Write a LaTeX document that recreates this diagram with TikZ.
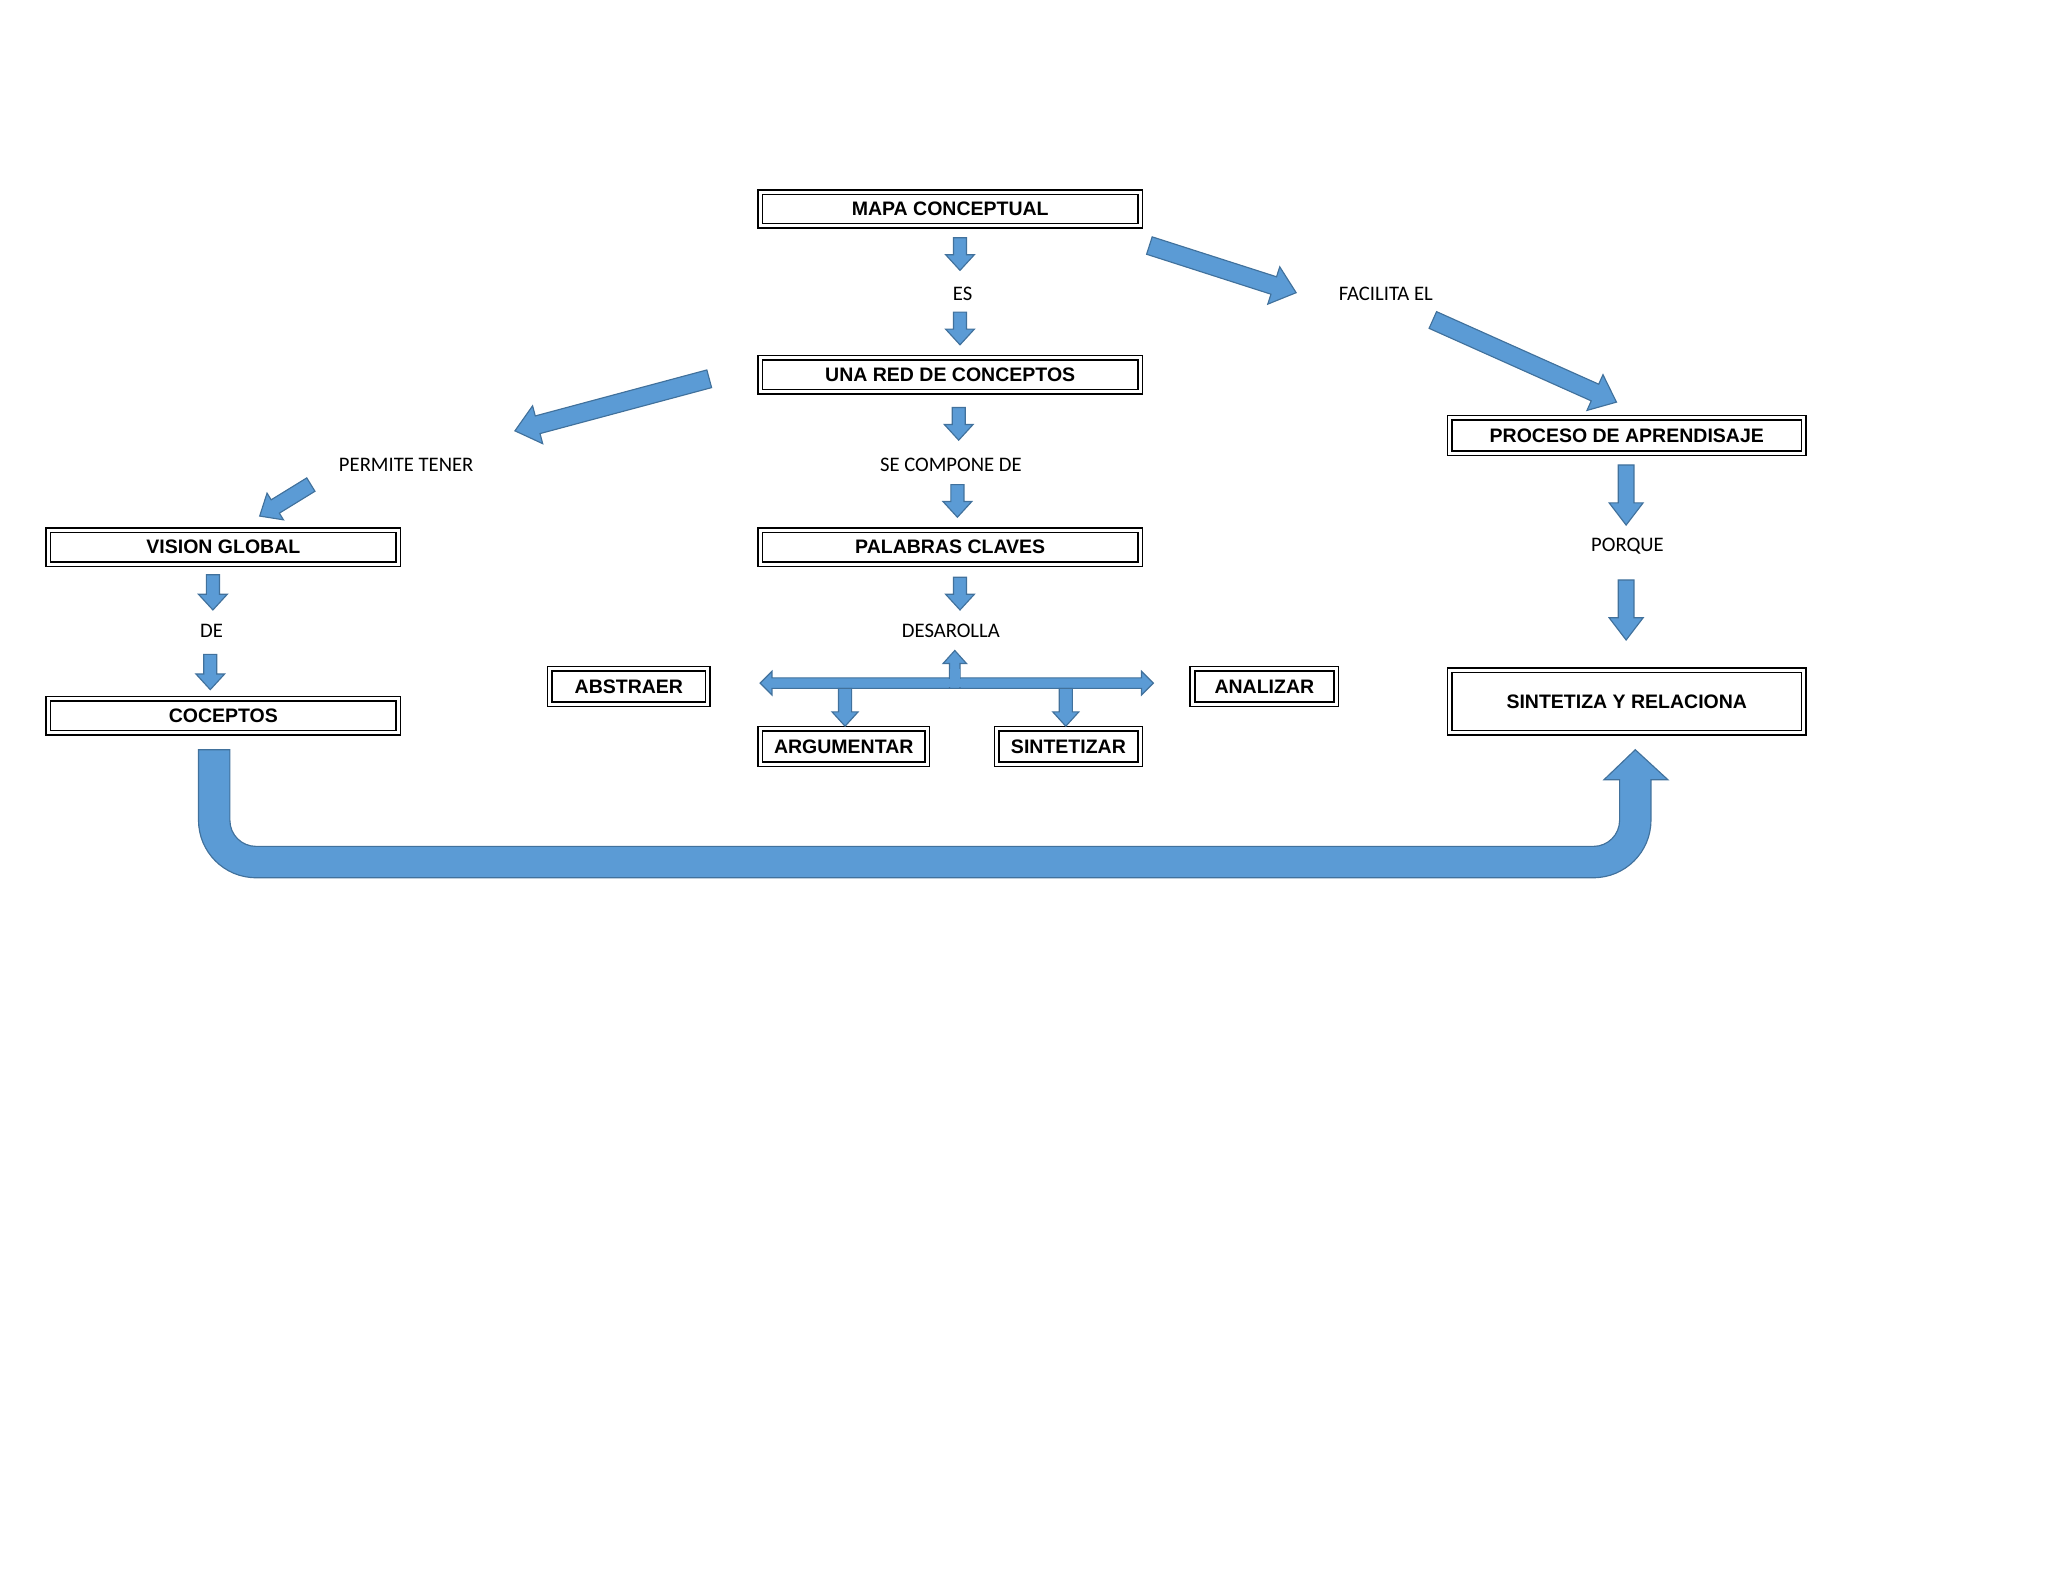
\documentclass[tikz,border=0pt]{standalone}
\usepackage{fontspec}
\setmainfont{Liberation Sans}
\newfontfamily\lblfont{Carlito}
\usetikzlibrary{calc,positioning}
\definecolor{arrfill}{HTML}{5B9BD5}
\definecolor{arrline}{HTML}{41719C}
% block arrow: position, angle, length, half shaft, half head, head length
\newcommand{\barrow}[6]{%
  \begin{scope}[shift={(#1)},rotate=#2]
    \draw[blk] (0,#4) -- ({#3-#6},#4) -- ({#3-#6},#5) -- (#3,0) -- ({#3-#6},-#5) -- ({#3-#6},-#4) -- (0,-#4) -- cycle;
  \end{scope}}
\begin{document}
\begin{tikzpicture}[x=0.02cm,y=-0.02cm]
  \tikzset{box/.style={draw, double, double distance=1.3pt, line width=0.7pt, fill=white,
      font=\fontsize{8.5}{10}\selectfont\bfseries, minimum height=0.52cm, inner sep=0pt},
    lbl/.style={font=\lblfont\fontsize{9}{11}\selectfont, inner sep=1pt},
    blk/.style={fill=arrfill, draw=arrline, line width=0.5pt}}
  \useasboundingbox (0,0) rectangle (1568,1211);
  % boxes
  \node[box, minimum width=5.82cm] (mapa) at (727.5,160) {MAPA CONCEPTUAL};
  \node[box, minimum width=5.82cm] (red) at (727.5,287) {UNA RED DE CONCEPTOS};
  \node[box, minimum width=5.82cm] (palabras) at (727.5,419) {PALABRAS CLAVES};
  \node[box, minimum width=5.36cm] (vision) at (171,419) {VISION GLOBAL};
  \node[box, minimum width=5.36cm] (coceptos) at (171,548) {COCEPTOS};
  \node[box, minimum width=5.42cm, minimum height=0.54cm] (proceso) at (1245.5,333.5) {PROCESO DE APRENDISAJE};
  \node[box, minimum width=5.42cm, minimum height=0.96cm] (sintetiza) at (1245.5,537) {SINTETIZA Y RELACIONA};
  \node[box, minimum width=2.42cm, minimum height=0.54cm] (abstraer) at (481.5,525.5) {ABSTRAER};
  \node[box, minimum width=2.2cm, minimum height=0.54cm] (analizar) at (968,525.5) {ANALIZAR};
  \node[box, minimum width=2.56cm, minimum height=0.54cm] (argumentar) at (646,571.5) {ARGUMENTAR};
  \node[box, minimum width=2.2cm, minimum height=0.54cm] (sintetizar) at (818,571.5) {SINTETIZAR};
  % labels
  \node[lbl] (es) at (737,225) {ES};
  \node[lbl] (facilita) at (1061,225) {FACILITA EL};
  \node[lbl] (permite) at (311,356) {PERMITE TENER};
  \node[lbl] (compone) at (728,356) {SE COMPONE DE};
  \node[lbl] (porque) at (1246,418) {PORQUE};
  \node[lbl] (de) at (162,483) {DE};
  \node[lbl] (desarolla) at (728,483) {DESAROLLA};
  % small arrows
  \barrow{735,182}{-90}{25}{5}{11}{12}
  \barrow{735,239}{-90}{25}{5}{11}{12}
  \barrow{734,312}{-90}{25}{5}{11}{12}
  \barrow{733,371}{-90}{25}{5}{11}{12}
  \barrow{735,442}{-90}{25}{5}{11}{12}
  \barrow{163,440}{-90}{27}{5}{11}{12}
  \barrow{161,501}{-90}{27}{5}{11}{12}
  \barrow{1245,356}{-90}{46}{6}{13}{17}
  \barrow{1245,444}{-90}{46}{6}{13}{17}
  % diagonal arrows
  \barrow{880,188}{-17.8}{118}{7}{15}{18}
  \barrow{1097,245}{-24.1}{154}{7}{15}{18}
  \barrow{543,290}{-165}{154}{7}{15}{18}
  \barrow{238,371}{-148.4}{46}{6}{12}{14}
  % four-way arrow
  \barrow{731,523}{0}{152}{4}{9}{9}
  \barrow{731,523}{180}{149}{4}{9}{9}
  \barrow{731,527}{90}{29}{4}{9}{10}
  \barrow{647,527}{-90}{29}{5}{10}{11}
  \barrow{816,527}{-90}{29}{5}{10}{11}
  \fill[arrfill] (600,520) rectangle (865,526);
  \fill[arrfill] (727,512) rectangle (735,526);
  % big return arrow
  \draw[blk] (152,574) -- (176,574) -- (176,628) arc[start angle=180, end angle=90, radius=20]
    -- (1220,648) arc[start angle=90, end angle=0, radius=20] -- (1240,597) -- (1228,597)
    -- (1252,574) -- (1277,597) -- (1264,597) -- (1264,628)
    arc[start angle=0, end angle=90, radius=44] -- (196,672)
    arc[start angle=90, end angle=180, radius=44] -- cycle;
\end{tikzpicture}
\end{document}
